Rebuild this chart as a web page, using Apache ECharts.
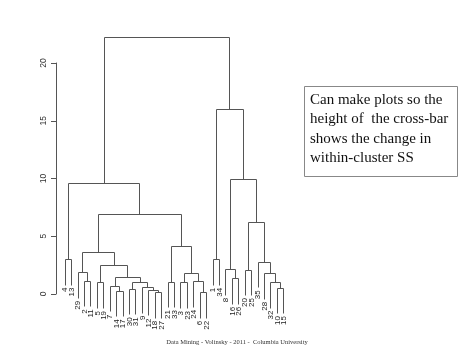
<!DOCTYPE html>
<html><head><meta charset="utf-8">
<script src="https://cdn.jsdelivr.net/npm/echarts@6/dist/echarts.min.js"></script>
<style>html,body{margin:0;padding:0;background:#fff}#c{width:474px;height:355px}</style>
</head><body><div id="c"></div>
<script>
// Leaf labels in display order (left to right)
const leafLabels = ['4','13','29','2','11','5','19','7','14','17','30','31','9','12','18','27',
  '21','33','3','23','24','6','22','1','34','8','16','26','20','25','35','28','32','10','15'];
// Merge table (hclust convention): negative = leaf -(position+1), positive = earlier merge (1-based)
const mergeA = [-9,-15,-22,-14,-11,-34,-13,-8,-6,5,-19,-17,-21,-33,-4,-27,8,-32,11,-3,-26,-29,9,-31,-1,-24,20,12,22,27,25,21,26,31];
const mergeB = [-10,-16,-23,2,-12,-35,4,1,-7,7,-20,-18,3,6,-5,-28,10,14,13,15,16,-30,17,18,-2,-25,23,19,24,28,30,29,32,33];
const mergeHeights = [0.28,0.15,0.15,0.35,0.45,0.56,0.6,0.7,1.0,1.05,1.0,1.07,1.1,1.03,1.15,1.36,1.5,1.79,1.85,1.88,2.14,2.12,2.55,2.78,3.03,3.0,3.65,4.15,6.2,6.9,9.6,10.0,16.0,22.25];
const yTicks = [0, 5, 10, 15, 20];
const noteLines = ['Can make plots so the', 'height of  the cross-bar', 'shows the change in', 'within-cluster SS'];
const footerText = 'Data Mining - Volinsky - 2011 -  Columbia University';

const hMax = Math.max(...mergeHeights), hMin = Math.min(...mergeHeights);
const hang = 0.1 * (hMax - hMin);
const mx = [];
const nodeX = r => r < 0 ? (-r - 1) : mx[r - 1];
mergeA.forEach((a, i) => { mx[i] = (nodeX(a) + nodeX(mergeB[i])) / 2; });
const leafEnd = [];
mergeA.forEach((a, i) => {
  const h = mergeHeights[i];
  [a, mergeB[i]].forEach(r => { if (r < 0) leafEnd[-r - 1] = h - hang; });
});
const childY = r => r < 0 ? leafEnd[-r - 1] : mergeHeights[r - 1];
const mergeData = mergeA.map((a, i) => [nodeX(a), nodeX(mergeB[i]), mergeHeights[i], childY(a), childY(mergeB[i])]);
const leafData = leafLabels.map((l, i) => [i, leafEnd[i]]);

const n = leafLabels.length;
const pad = 0.04 * (n - 1);
const px = v => Math.round(v) + 0.5;
const LINE = '#555';

const chart = echarts.init(document.getElementById('c'), null, {renderer: 'canvas'});
chart.setOption({
  animation: false,
  backgroundColor: '#fff',
  grid: {left: 56, right: 182, top: 63, bottom: 61},
  xAxis: {type: 'value', min: -pad, max: n - 1 + pad, show: false},
  yAxis: {
    type: 'value', min: yTicks[0], max: yTicks[yTicks.length - 1], interval: 5,
    axisLine: {show: true, onZero: false, lineStyle: {color: LINE, width: 1}},
    axisTick: {show: true, length: 5, lineStyle: {color: LINE}},
    axisLabel: {rotate: 90, margin: 8, fontSize: 8.5, color: '#333', fontFamily: 'Liberation Sans'},
    splitLine: {show: false}
  },
  series: [
    {
      type: 'custom', clip: false, data: mergeData,
      renderItem(params, api) {
        const xa = api.value(0), xb = api.value(1), h = api.value(2), ya = api.value(3), yb = api.value(4);
        const pts = [[xa, ya], [xa, h], [xb, h], [xb, yb]].map(p => {
          const c = api.coord(p); return [px(c[0]), px(c[1])];
        });
        return {type: 'polyline', shape: {points: pts}, style: {stroke: LINE, lineWidth: 1, fill: null}};
      }
    },
    {
      type: 'custom', clip: false, data: leafData,
      renderItem(params, api) {
        const c = api.coord([api.value(0), api.value(1)]);
        return {
          type: 'text', x: c[0] + 0.5, y: c[1] + 3, rotation: Math.PI / 2,
          style: {text: leafLabels[params.dataIndex], fontSize: 8, fontFamily: 'Liberation Sans',
                  fill: '#222', align: 'right', verticalAlign: 'middle'}
        };
      }
    }
  ],
  graphic: [
    {type: 'rect', shape: {x: 304.5, y: 86.5, width: 153, height: 90},
     style: {fill: '#fff', stroke: '#888', lineWidth: 1}},
    {type: 'text', x: 310, y: 90,
     style: {text: noteLines.join('\n'), fontSize: 15, lineHeight: 19.5, fontFamily: 'Liberation Serif', fill: '#111'}},
    {type: 'text', x: 237, y: 342,
     style: {text: footerText, fontSize: 6.5, fontFamily: 'Liberation Serif', fill: '#333', align: 'center', verticalAlign: 'middle'}}
  ]
});
</script></body></html>
